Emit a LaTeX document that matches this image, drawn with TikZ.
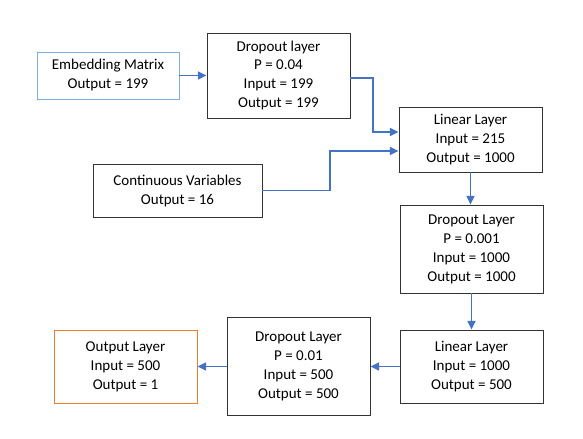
\documentclass[tikz,border=0pt]{standalone}
\usepackage{fontspec}
\setmainfont{Carlito}
\usetikzlibrary{arrows.meta,calc}
\definecolor{arrowblue}{HTML}{4472C4}
\definecolor{lightblue}{HTML}{7FAFD8}
\definecolor{orangeb}{HTML}{ED7D31}
\begin{document}
\begin{tikzpicture}[x=0.75pt,y=-0.75pt,
  box/.style={draw=black!80,line width=0.65pt,align=center,inner sep=0pt,
    font=\fontsize{11.25pt}{14.25pt}\selectfont},
  arr/.style={draw=arrowblue,line width=1pt,-{Triangle[length=6.5pt,width=6pt]}}]
\useasboundingbox (0,0) rectangle (583,439);
\node[box,draw=lightblue,minimum width=142*0.75pt,minimum height=47*0.75pt] (emb) at (108,75.5) {Embedding Matrix\\Output = 199};
\node[box,minimum width=143*0.75pt,minimum height=85*0.75pt] (d1) at (278.5,75.5) {Dropout layer\\P = 0.04\\Input = 199\\Output = 199};
\node[box,minimum width=143*0.75pt,minimum height=65*0.75pt] (l1) at (470.5,139.5) {Linear Layer\\Input = 215\\Output = 1000};
\node[box,minimum width=169*0.75pt,minimum height=53*0.75pt] (cv) at (177.5,190.5) {Continuous Variables\\Output = 16};
\node[box,minimum width=143*0.75pt,minimum height=88*0.75pt] (d2) at (471.5,249) {Dropout Layer\\P = 0.001\\Input = 1000\\Output = 1000};
\node[box,minimum width=143*0.75pt,minimum height=73*0.75pt] (l2) at (471.5,366.5) {Linear Layer\\Input = 1000\\Output = 500};
\node[box,minimum width=143*0.75pt,minimum height=98*0.75pt] (d3) at (298.5,366) {Dropout Layer\\P = 0.01\\Input = 500\\Output = 500};
\node[box,draw=orangeb,minimum width=143*0.75pt,minimum height=73*0.75pt] (out) at (125.5,366.5) {Output Layer\\Input = 500\\Output = 1};
\coordinate (j1) at (373,0);
\coordinate (j2) at (330,0);
\coordinate (l1a) at ($(l1.west)+(0,-7.5)$);
\coordinate (l1b) at ($(l1.west)+(0,11.5)$);
\draw[arr] (emb.east) -- (emb.east -| d1.west);
\draw[arr] (d1.east |- 0,78) -- (j1 |- 0,78) |- (l1a);
\draw[arr] (cv.east) -- (j2 |- cv.east) |- (l1b);
\draw[arr] (l1.south) -- (l1.south |- d2.north);
\draw[arr] (d2.south) -- (d2.south |- l2.north);
\draw[arr] (l2.west) -- (d3.east |- l2.west);
\draw[arr] (d3.west |- out.east) -- (out.east);
\end{tikzpicture}
\end{document}
